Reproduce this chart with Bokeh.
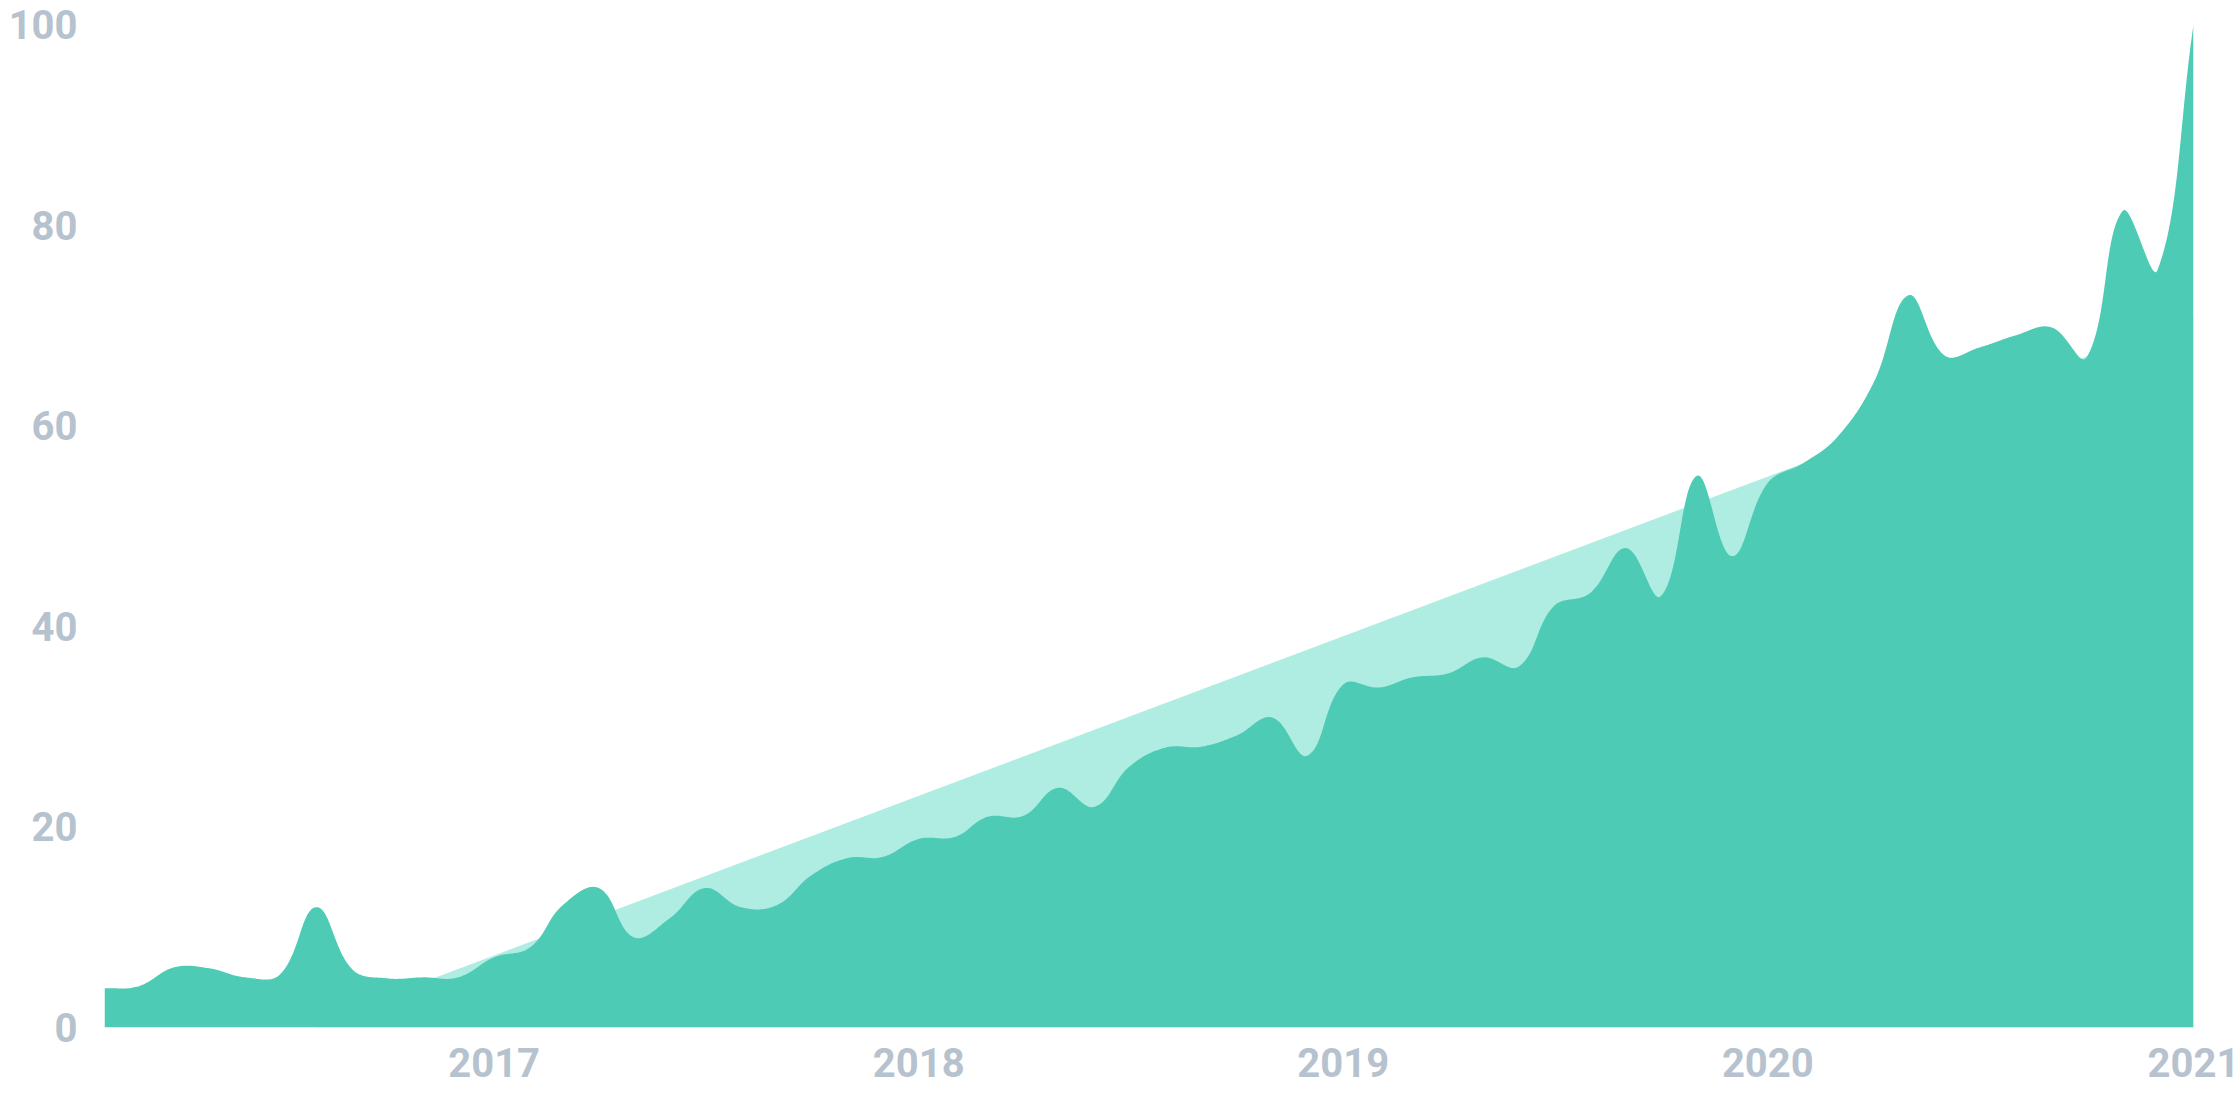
import numpy as np
import pandas as pd
from bokeh.plotting import figure
from bokeh.models import FixedTicker, DatetimeTickFormatter, Range1d
from bokeh.embed import file_html
from bokeh.resources import INLINE

# ---- data ----
first_month = "2016-02-01"
interest = [
    3.9, 4.1, 6.0, 5.9, 5.0, 5.3, 12.0, 5.8, 4.9, 5.0, 5.0,          # 2016-02 .. 2016-12
    7.0, 8.0, 12.2, 13.9, 9.0, 10.9, 13.9, 12.0, 12.2, 15.2, 16.9, 17.0,  # 2017
    18.8, 19.0, 21.0, 21.1, 23.9, 22.0, 26.0, 27.9, 28.0, 29.1, 30.9, 27.1,  # 2018
    34.2, 33.9, 34.9, 35.3, 36.9, 36.0, 42.0, 43.3, 47.8, 43.0, 55.0, 47.0,  # 2019
    54.3, 56.3, 58.9, 64.3, 73.0, 67.0, 67.8, 69.0, 69.8, 66.8, 81.4, 75.5,  # 2020
    100.0,                                                             # 2021-01
]
trend_dates = ["2016-08-01", "2021-01-01"]
trend_values = [0.5, 70.9]
year_ticks = ["2017-01-01", "2018-01-01", "2019-01-01", "2020-01-01", "2021-01-01"]
y_ticks = [0, 20, 40, 60, 80, 100]

DARK = "#4ecbb5"
LIGHT = "#afede2"
TEXT = "#b6c2ce"

months = pd.date_range(first_month, periods=len(interest), freq="MS")


def ms(d):
    return pd.Timestamp(d).value / 1e6


x_ms = np.array([ms(d) for d in months])
y_val = np.array(interest, dtype=float)

W, H = 2240, 1110
BL, BT = 104, 24
FRAME_RIGHT, FRAME_BOTTOM = 2193, 1027
BR, BB = W - FRAME_RIGHT, H - FRAME_BOTTOM
FW, FH = W - BL - BR, H - BT - BB
x0, x1 = x_ms[0], x_ms[-1]


def spline_curve(xs, ys, tension=0.4, n=30):
    # Chart.js-style bezier smoothing, computed in pixel space
    px = (xs - x0) / (x1 - x0) * FW
    py = ys / 100.0 * FH
    P = np.column_stack([px, py])
    N = len(P)
    cpp = np.zeros_like(P)
    cpn = np.zeros_like(P)
    for i in range(N):
        prev = P[i - 1] if i > 0 else P[i]
        cur = P[i]
        nxt = P[i + 1] if i < N - 1 else P[i]
        d01 = np.hypot(*(cur - prev))
        d12 = np.hypot(*(nxt - cur))
        tot = d01 + d12
        s01 = d01 / tot if tot else 0.0
        s12 = d12 / tot if tot else 0.0
        cpp[i] = cur - tension * s01 * (nxt - prev)
        cpn[i] = cur + tension * s12 * (nxt - prev)
    for c in (cpp, cpn):
        c[:, 0] = np.clip(c[:, 0], 0, FW)
        c[:, 1] = np.clip(c[:, 1], 0, FH)
    t = np.linspace(0, 1, n)[:, None]
    segs = []
    for i in range(N - 1):
        b = ((1 - t) ** 3) * P[i] + 3 * ((1 - t) ** 2) * t * cpn[i] \
            + 3 * (1 - t) * t ** 2 * cpp[i + 1] + t ** 3 * P[i + 1]
        segs.append(b if i == 0 else b[1:])
    B = np.vstack(segs)
    bx = x0 + B[:, 0] / FW * (x1 - x0)
    by = B[:, 1] / FH * 100.0
    return bx, by


sx, sy = spline_curve(x_ms, y_val)

p = figure(width=W, height=H, x_axis_type="datetime",
           x_range=Range1d(x0, x1), y_range=Range1d(0, 100),
           output_backend="svg", toolbar_location=None,
           min_border_left=BL, min_border_right=BR,
           min_border_top=BT, min_border_bottom=BB)

p.varea(x=[ms(d) for d in trend_dates], y1=[0, 0], y2=trend_values,
        fill_color=LIGHT, fill_alpha=1.0)
p.varea(x=sx, y1=np.zeros_like(sy), y2=sy, fill_color=DARK, fill_alpha=1.0)

p.outline_line_color = None
p.xgrid.visible = False
p.ygrid.visible = False
p.background_fill_color = "white"
p.border_fill_color = "white"

for ax in (p.xaxis, p.yaxis):
    ax.axis_line_color = None
    ax.major_tick_line_color = None
    ax.minor_tick_line_color = None
    ax.major_tick_in = 0
    ax.major_tick_out = 0
    ax.minor_tick_in = 0
    ax.minor_tick_out = 0
    ax.major_label_text_color = TEXT
    ax.major_label_text_font = "Roboto"
    ax.major_label_text_font_style = "bold"
    ax.major_label_text_font_size = "40px"

p.yaxis.ticker = FixedTicker(ticks=y_ticks)
p.yaxis.major_label_standoff = 27
p.xaxis.ticker = FixedTicker(ticks=[ms(d) for d in year_ticks])
p.xaxis.formatter = DatetimeTickFormatter(years="%Y", months="%Y", days="%Y",
                                          hours="%Y", minutes="%Y", seconds="%Y")
p.xaxis.major_label_standoff = 20

open("out.html", "w").write(file_html(p, INLINE))
